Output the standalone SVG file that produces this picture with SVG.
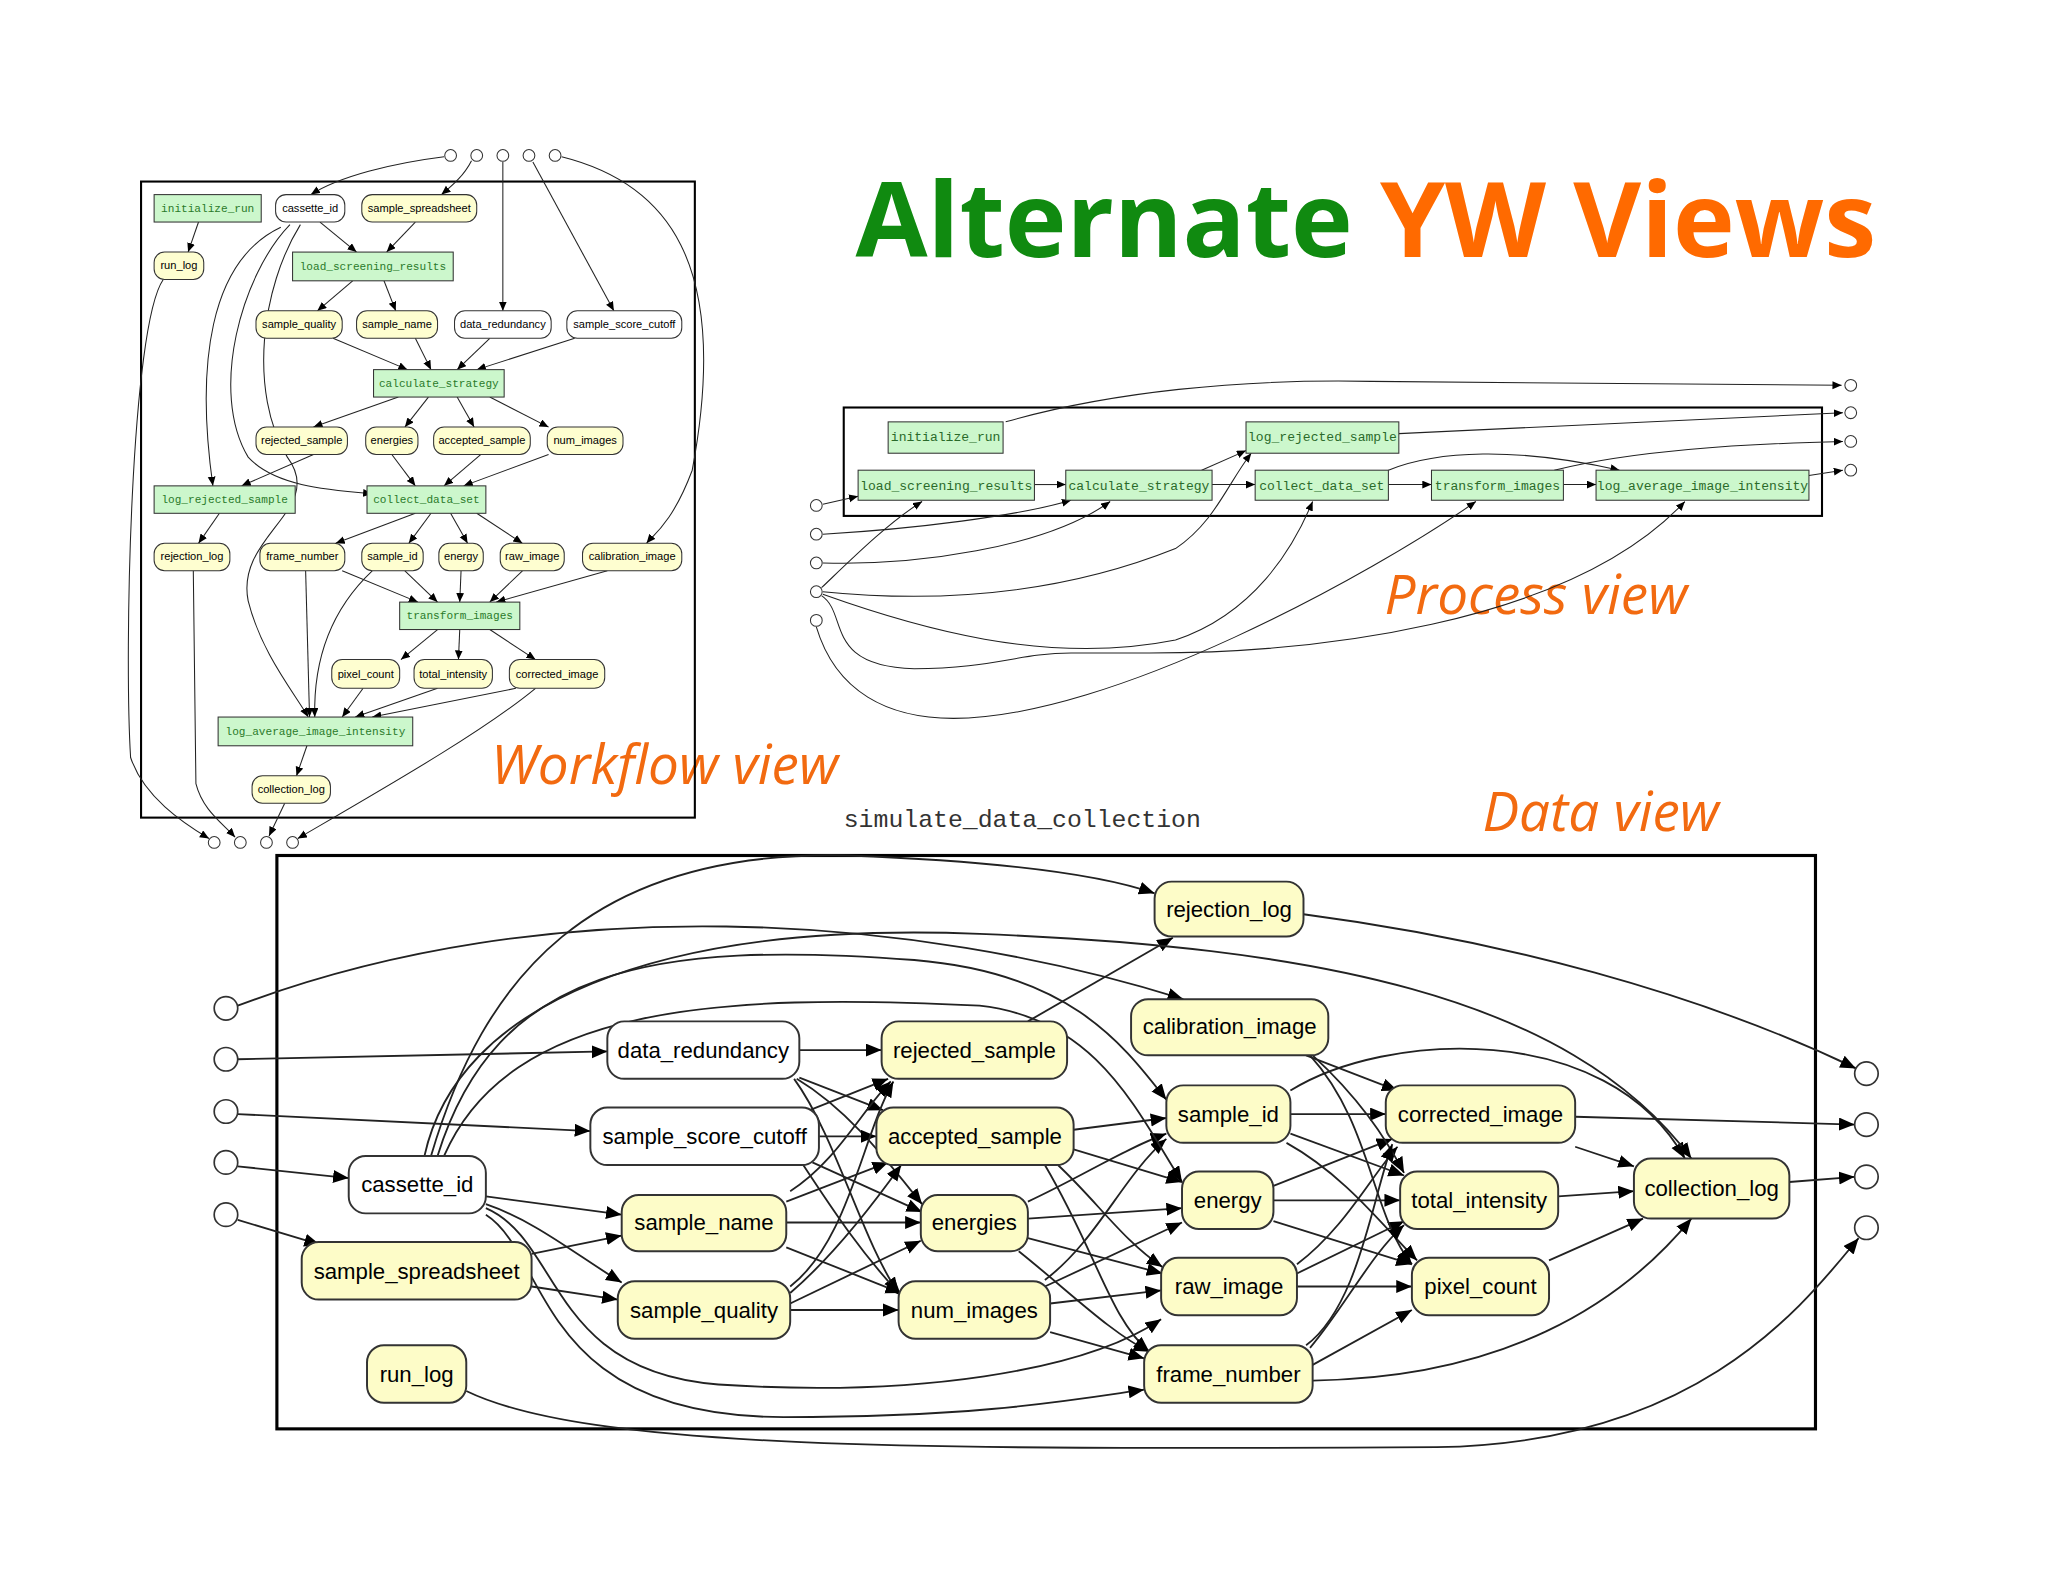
<svg xmlns="http://www.w3.org/2000/svg" width="2048" height="1582" viewBox="0 0 2048 1582">
<style>
.bg{fill:#fff}
.frame{fill:none;stroke:#000;stroke-width:1.6}
.dframe{fill:none;stroke:#000;stroke-width:2.4}
.g{fill:#ccf7cc;stroke:#333;stroke-width:0.8}
.y{fill:#fefed0;stroke:#333;stroke-width:0.8}
.w{fill:#fff;stroke:#333;stroke-width:0.8}
.dy{fill:#fdfcc8;stroke:#333;stroke-width:1.5}
.dw{fill:#fff;stroke:#333;stroke-width:1.5}
.gt{font-family:"Liberation Mono",monospace;font-size:8.5px;fill:#2a7a2a;text-anchor:middle}
.pt{font-family:"Liberation Mono",monospace;font-size:10px;fill:#2a6a2a;text-anchor:middle}
.st{font-family:"Liberation Sans",Arial,sans-serif;font-size:8.5px;fill:#000;text-anchor:middle}
.dt{font-family:"Liberation Sans",Arial,sans-serif;font-size:17px;fill:#000;text-anchor:middle}
.c{fill:#fff;stroke:#333;stroke-width:0.8}
.dc{fill:#fff;stroke:#333;stroke-width:1.3}
.e{fill:none;stroke:#222;stroke-width:0.8;marker-end:url(#a)}
.en{fill:none;stroke:#222;stroke-width:0.8}
.de{fill:none;stroke:#222;stroke-width:1.4;marker-end:url(#b)}
.de2{fill:none;stroke:#222;stroke-width:1.4}
.big{font-family:"Open Sans","Noto Sans",sans-serif;font-weight:bold;font-size:80px}
.it{font-family:"Open Sans","Noto Sans",sans-serif;font-style:italic;font-size:42px;fill:#f26a10}
</style>
<defs>
<marker id="a" markerUnits="userSpaceOnUse" markerWidth="8" markerHeight="8" refX="7" refY="3" orient="auto"><path d="M0,0 L7,3 L0,6 z" fill="#000"/></marker>
<marker id="b" markerUnits="userSpaceOnUse" markerWidth="14" markerHeight="12" refX="12" refY="5" orient="auto"><path d="M0,0 L12,5 L0,10 z" fill="#000"/></marker>
</defs>
<rect class="bg" width="2048" height="1582"/>
<g transform="scale(1.3061)">
<g id="title">
<text class="big" x="655" y="197"><tspan fill="#108a10">Alternate </tspan><tspan fill="#ff6a00">YW Views</tspan></text>
<text class="it" x="376" y="600">Workflow view</text>
<text class="it" x="1060" y="470">Process view</text>
<text class="it" x="1135" y="636">Data view</text>
<text x="646" y="633" font-family="Liberation Mono,monospace" font-size="19" fill="#333">simulate_data_collection</text>
</g>

<!-- WORKFLOW VIEW -->
<rect class="frame" x="108" y="139" width="424" height="487"/>
<g id="wf-edges">
<path class="e" d="M340,120 C300,125 260,135 238,149"/>
<path class="e" d="M361,123 C355,135 345,143 338,149"/>
<path class="e" d="M385,124 L385,238"/>
<path class="e" d="M408,124 L470,238"/>
<path class="e" d="M430,120 C510,140 560,200 530,360 C515,400 500,410 495,416"/>
<path class="e" d="M152,170 L144,193"/>
<path class="e" d="M245,170 L273,193"/>
<path class="e" d="M318,170 L296,193"/>
<path class="e" d="M270,215 L243,238"/>
<path class="e" d="M294,215 L303,238"/>
<path class="e" d="M255,259 L312,283"/>
<path class="e" d="M318,259 L330,283"/>
<path class="e" d="M375,259 L350,283"/>
<path class="e" d="M440,259 L365,283"/>
<path class="e" d="M305,304 L240,327"/>
<path class="e" d="M328,304 L310,327"/>
<path class="e" d="M350,304 L363,327"/>
<path class="e" d="M375,304 L420,327"/>
<path class="e" d="M240,348 L185,372"/>
<path class="e" d="M215,174 C160,200 150,280 163,372"/>
<path class="e" d="M222,172 C185,210 160,300 190,350 C210,372 250,375 285,378"/>
<path class="e" d="M230,172 C200,220 190,300 220,350 C250,390 180,410 190,460 C200,500 225,530 236,549"/>
<path class="e" d="M300,348 L318,372"/>
<path class="e" d="M368,348 L340,372"/>
<path class="e" d="M420,348 L355,372"/>
<path class="e" d="M168,393 L152,416"/>
<path class="e" d="M318,393 L257,416"/>
<path class="e" d="M330,393 L313,416"/>
<path class="e" d="M345,393 L358,416"/>
<path class="e" d="M365,393 L400,416"/>
<path class="e" d="M234,437 L237,549"/>
<path class="e" d="M262,437 L320,461"/>
<path class="e" d="M310,437 L335,461"/>
<path class="e" d="M285,437 C250,470 240,510 241,549"/>
<path class="e" d="M353,437 L352,461"/>
<path class="e" d="M400,437 L375,461"/>
<path class="e" d="M465,437 L380,461"/>
<path class="e" d="M335,482 L307,505"/>
<path class="e" d="M352,482 L351,505"/>
<path class="e" d="M375,482 L410,505"/>
<path class="e" d="M278,527 L262,549"/>
<path class="e" d="M335,527 L272,549"/>
<path class="e" d="M395,527 L285,549"/>
<path class="e" d="M235,571 L227,594"/>
<path class="e" d="M125,214 C100,250 95,500 100,580 C110,610 140,630 160,642"/>
<path class="e" d="M148,437 L150,600 C155,620 170,630 180,641"/>
<path class="e" d="M218,615 L206,640"/>
<path class="e" d="M410,527 C370,560 300,600 228,642"/>
</g>
<g id="wf-ports">
<circle class="c" cx="345" cy="119" r="4.5"/><circle class="c" cx="365" cy="119" r="4.5"/><circle class="c" cx="385" cy="119" r="4.5"/><circle class="c" cx="405" cy="119" r="4.5"/><circle class="c" cx="425" cy="119" r="4.5"/>
<circle class="c" cx="164" cy="645" r="4.5"/><circle class="c" cx="184" cy="645" r="4.5"/><circle class="c" cx="204" cy="645" r="4.5"/><circle class="c" cx="224" cy="645" r="4.5"/>
</g>
<g id="wf-initialize_run"><rect class="g" x="118" y="149" width="82" height="21"/><text class="gt" x="159" y="162">initialize_run</text></g>
<g id="wf-cassette_id"><rect class="w" x="211" y="149" width="53" height="21" rx="8"/><text class="st" x="237.5" y="162">cassette_id</text></g>
<g id="wf-sample_spreadsheet"><rect class="y" x="277" y="149" width="88" height="21" rx="8"/><text class="st" x="321" y="162">sample_spreadsheet</text></g>
<g id="wf-run_log"><rect class="y" x="118" y="193" width="38" height="21" rx="8"/><text class="st" x="137" y="206">run_log</text></g>
<g id="wf-load_screening_results"><rect class="g" x="224" y="193" width="123" height="22"/><text class="gt" x="285.5" y="207">load_screening_results</text></g>
<g id="wf-sample_quality"><rect class="y" x="196" y="238" width="66" height="21" rx="8"/><text class="st" x="229" y="251">sample_quality</text></g>
<g id="wf-sample_name"><rect class="y" x="273" y="238" width="62" height="21" rx="8"/><text class="st" x="304" y="251">sample_name</text></g>
<g id="wf-data_redundancy"><rect class="w" x="348" y="238" width="74" height="21" rx="8"/><text class="st" x="385" y="251">data_redundancy</text></g>
<g id="wf-sample_score_cutoff"><rect class="w" x="434" y="238" width="88" height="21" rx="8"/><text class="st" x="478" y="251">sample_score_cutoff</text></g>
<g id="wf-calculate_strategy"><rect class="g" x="286" y="283" width="100" height="21"/><text class="gt" x="336" y="296">calculate_strategy</text></g>
<g id="wf-rejected_sample"><rect class="y" x="196" y="327" width="70" height="21" rx="8"/><text class="st" x="231" y="340">rejected_sample</text></g>
<g id="wf-energies"><rect class="y" x="280" y="327" width="40" height="21" rx="8"/><text class="st" x="300" y="340">energies</text></g>
<g id="wf-accepted_sample"><rect class="y" x="332" y="327" width="74" height="21" rx="8"/><text class="st" x="369" y="340">accepted_sample</text></g>
<g id="wf-num_images"><rect class="y" x="419" y="327" width="58" height="21" rx="8"/><text class="st" x="448" y="340">num_images</text></g>
<g id="wf-log_rejected_sample"><rect class="g" x="118" y="372" width="108" height="21"/><text class="gt" x="172" y="385">log_rejected_sample</text></g>
<g id="wf-collect_data_set"><rect class="g" x="281" y="372" width="91" height="21"/><text class="gt" x="326.5" y="385">collect_data_set</text></g>
<g id="wf-rejection_log"><rect class="y" x="118" y="416" width="58" height="21" rx="8"/><text class="st" x="147" y="429">rejection_log</text></g>
<g id="wf-frame_number"><rect class="y" x="199" y="416" width="65" height="21" rx="8"/><text class="st" x="231.5" y="429">frame_number</text></g>
<g id="wf-sample_id"><rect class="y" x="277" y="416" width="47" height="21" rx="8"/><text class="st" x="300.5" y="429">sample_id</text></g>
<g id="wf-energy"><rect class="y" x="336" y="416" width="34" height="21" rx="8"/><text class="st" x="353" y="429">energy</text></g>
<g id="wf-raw_image"><rect class="y" x="383" y="416" width="49" height="21" rx="8"/><text class="st" x="407.5" y="429">raw_image</text></g>
<g id="wf-calibration_image"><rect class="y" x="446" y="416" width="76" height="21" rx="8"/><text class="st" x="484" y="429">calibration_image</text></g>
<g id="wf-transform_images"><rect class="g" x="306" y="461" width="92" height="21"/><text class="gt" x="352" y="474">transform_images</text></g>
<g id="wf-pixel_count"><rect class="y" x="254" y="505" width="52" height="22" rx="8"/><text class="st" x="280" y="519">pixel_count</text></g>
<g id="wf-total_intensity"><rect class="y" x="317" y="505" width="60" height="22" rx="8"/><text class="st" x="347" y="519">total_intensity</text></g>
<g id="wf-corrected_image"><rect class="y" x="390" y="505" width="73" height="22" rx="8"/><text class="st" x="426.5" y="519">corrected_image</text></g>
<g id="wf-log_average_image_intensity"><rect class="g" x="167" y="549" width="149" height="22"/><text class="gt" x="241.5" y="563">log_average_image_intensity</text></g>
<g id="wf-collection_log"><rect class="y" x="193" y="594" width="60" height="21" rx="8"/><text class="st" x="223" y="607">collection_log</text></g>

<!-- PROCESS VIEW -->
<rect class="frame" x="646" y="312" width="749" height="83"/>
<g id="pv-edges">
<path class="e" d="M770,323 C850,300 950,290 1050,292 L1410,295"/>
<path class="e" d="M1071,332 L1411,316"/>
<path class="e" d="M1190,360 C1250,345 1330,340 1411,338"/>
<path class="e" d="M1385,364 L1411,360"/>
<path class="e" d="M1063,360 C1100,345 1160,342 1240,360"/>
<path class="e" d="M792,371 L816,371"/>
<path class="e" d="M928,371 L961,371"/>
<path class="e" d="M1063,371 L1096,371"/>
<path class="e" d="M1197,371 L1222,371"/>
<path class="e" d="M920,360 L954,345"/>
<path class="e" d="M630,386 L657,380"/>
<path class="e" d="M630,409 C700,405 780,395 820,383"/>
<path class="e" d="M630,431 C700,433 800,420 850,384"/>
<path class="e" d="M629,450 C650,430 680,400 706,384"/>
<path class="e" d="M630,453 C700,460 800,460 900,420 C930,400 940,370 958,347"/>
<path class="e" d="M630,455 C700,480 800,510 900,490 C960,470 990,420 1005,384"/>
<path class="e" d="M629,456 C650,470 630,510 700,512 C760,512 780,500 820,500 L880,500 C1000,500 1200,480 1290,384"/>
<path class="e" d="M625,480 C640,530 680,550 730,550 C850,550 1050,440 1130,384"/>
</g>
<g id="pv-ports">
<circle class="c" cx="625" cy="387" r="4.5"/><circle class="c" cx="625" cy="409" r="4.5"/><circle class="c" cx="625" cy="431" r="4.5"/><circle class="c" cx="625" cy="453" r="4.5"/><circle class="c" cx="625" cy="475" r="4.5"/>
<circle class="c" cx="1417" cy="295" r="4.5"/><circle class="c" cx="1417" cy="316" r="4.5"/><circle class="c" cx="1417" cy="338" r="4.5"/><circle class="c" cx="1417" cy="360" r="4.5"/>
</g>
<g id="pv-initialize_run"><rect class="g" x="680" y="323" width="88" height="24"/><text class="pt" x="724" y="338">initialize_run</text></g>
<g id="pv-log_rejected_sample"><rect class="g" x="954" y="323" width="117" height="24"/><text class="pt" x="1012.5" y="338">log_rejected_sample</text></g>
<g id="pv-load_screening_results"><rect class="g" x="657" y="360" width="135" height="23"/><text class="pt" x="724.5" y="375">load_screening_results</text></g>
<g id="pv-calculate_strategy"><rect class="g" x="816" y="360" width="112" height="23"/><text class="pt" x="872" y="375">calculate_strategy</text></g>
<g id="pv-collect_data_set"><rect class="g" x="961" y="360" width="102" height="23"/><text class="pt" x="1012" y="375">collect_data_set</text></g>
<g id="pv-transform_images"><rect class="g" x="1096" y="360" width="101" height="23"/><text class="pt" x="1146.5" y="375">transform_images</text></g>
<g id="pv-log_average_image_intensity"><rect class="g" x="1222" y="360" width="163" height="23"/><text class="pt" x="1303.5" y="375">log_average_image_intensity</text></g>

<!-- DATA VIEW -->
<rect class="dframe" x="212" y="655" width="1178" height="439"/>
<g id="dv-edges">
<path class="de" d="M182,770 C420,680 700,700 906,765"/>
<path class="de" d="M182,811 L465,805"/>
<path class="de" d="M182,853 L452,866"/>
<path class="de" d="M182,893 L267,902"/>
<path class="de" d="M182,934 L245,953"/>
<path class="de" d="M372,916 L476,930"/>
<path class="de" d="M372,922 C410,935 440,960 476,982"/>
<path class="de" d="M407,960 L476,946"/>
<path class="de" d="M407,985 L473,995"/>
<path class="de" d="M612,804 L675,804"/>
<path class="de" d="M612,825 L676,850"/>
<path class="de" d="M610,826 C650,850 680,890 706,922"/>
<path class="de" d="M608,826 C640,870 660,950 688,990"/>
<path class="de" d="M627,870 L671,870"/>
<path class="de" d="M620,850 L680,826"/>
<path class="de" d="M622,890 L706,928"/>
<path class="de" d="M615,892 C640,930 660,960 690,992"/>
<path class="de" d="M605,912 C640,890 660,850 682,828"/>
<path class="de" d="M602,920 L680,890"/>
<path class="de" d="M602,936 L705,936"/>
<path class="de" d="M602,955 L690,990"/>
<path class="de" d="M605,985 C650,950 660,870 684,828"/>
<path class="de" d="M605,990 C640,960 670,920 690,892"/>
<path class="de" d="M605,998 L705,950"/>
<path class="de" d="M605,1003 L688,1003"/>
<path class="de" d="M787,782 L898,718"/>
<path class="de" d="M822,865 L893,856"/>
<path class="de" d="M822,880 L905,905"/>
<path class="de" d="M810,892 C840,920 860,950 890,970"/>
<path class="de" d="M800,892 C840,960 850,1010 880,1035"/>
<path class="de" d="M787,920 C830,900 860,880 893,868"/>
<path class="de" d="M787,933 L905,925"/>
<path class="de" d="M787,948 L890,975"/>
<path class="de" d="M780,958 C820,990 850,1020 880,1035"/>
<path class="de" d="M800,980 C840,950 860,900 893,872"/>
<path class="de" d="M800,985 L905,936"/>
<path class="de" d="M804,998 L889,988"/>
<path class="de" d="M804,1020 L876,1040"/>
<path class="de" d="M988,853 L1061,853"/>
<path class="de" d="M988,868 L1075,900"/>
<path class="de" d="M985,875 C1030,900 1060,940 1085,965"/>
<path class="de" d="M988,835 C1060,790 1230,780 1290,887"/>
<path class="de" d="M975,908 L1066,872"/>
<path class="de" d="M975,919 L1072,919"/>
<path class="de" d="M975,935 L1081,968"/>
<path class="de" d="M993,968 C1030,940 1050,900 1070,878"/>
<path class="de" d="M993,975 L1075,935"/>
<path class="de" d="M993,985 L1081,985"/>
<path class="de" d="M1000,808 L1070,835"/>
<path class="de" d="M1005,808 C1040,840 1060,870 1075,898"/>
<path class="de" d="M1003,808 C1050,860 1050,930 1081,968"/>
<path class="de" d="M1000,1030 C1040,1000 1050,920 1066,876"/>
<path class="de" d="M1003,1032 C1030,1000 1050,960 1075,938"/>
<path class="de" d="M1005,1045 L1081,1003"/>
<path class="de" d="M1005,1057 C1150,1055 1240,1000 1295,933"/>
<path class="de" d="M1206,855 L1420,861"/>
<path class="de" d="M1206,878 L1251,893"/>
<path class="de" d="M1193,916 L1251,912"/>
<path class="de" d="M1186,965 L1258,933"/>
<path class="de" d="M1370,905 L1420,901"/>
<path class="de" d="M998,700 C1150,720 1300,760 1421,818"/>
<path class="de" d="M357,1065 C450,1110 700,1110 1100,1108 C1300,1105 1380,1000 1423,948"/>
<path class="de" d="M330,885 C370,750 450,650 650,655 C780,660 850,672 884,684"/>
<path class="de" d="M335,885 C380,740 500,720 700,735 C820,745 860,800 893,842"/>
<path class="de" d="M340,885 C390,770 550,760 750,770 C840,780 870,850 905,905"/>
<path class="de" d="M325,885 C350,770 500,705 750,715 C1000,725 1200,760 1295,887"/>
<path class="de" d="M372,925 C430,950 420,1050 550,1060 C700,1070 830,1050 889,1010"/>
<path class="de" d="M372,930 C420,960 410,1085 600,1085 C750,1085 820,1072 876,1064"/>
</g>
<g id="dv-ports">
<circle class="dc" cx="173" cy="772" r="9"/><circle class="dc" cx="173" cy="811" r="9"/><circle class="dc" cx="173" cy="851" r="9"/><circle class="dc" cx="173" cy="890" r="9"/><circle class="dc" cx="173" cy="930" r="9"/>
<circle class="dc" cx="1429" cy="822" r="9"/><circle class="dc" cx="1429" cy="861" r="9"/><circle class="dc" cx="1429" cy="901" r="9"/><circle class="dc" cx="1429" cy="940" r="9"/>
</g>
<g id="dv-rejection_log"><rect class="dy" x="884" y="675" width="114" height="42" rx="13"/><text class="dt" x="941" y="702">rejection_log</text></g>
<g id="dv-calibration_image"><rect class="dy" x="866" y="765" width="151" height="43" rx="13"/><text class="dt" x="941.5" y="792">calibration_image</text></g>
<g id="dv-data_redundancy"><rect class="dw" x="465" y="782" width="147" height="44" rx="13"/><text class="dt" x="538.5" y="810">data_redundancy</text></g>
<g id="dv-rejected_sample"><rect class="dy" x="675" y="782" width="142" height="44" rx="13"/><text class="dt" x="746" y="810">rejected_sample</text></g>
<g id="dv-sample_id"><rect class="dy" x="893" y="831" width="95" height="44" rx="13"/><text class="dt" x="940.5" y="859">sample_id</text></g>
<g id="dv-corrected_image"><rect class="dy" x="1061" y="831" width="145" height="44" rx="13"/><text class="dt" x="1133.5" y="859">corrected_image</text></g>
<g id="dv-sample_score_cutoff"><rect class="dw" x="452" y="848" width="175" height="44" rx="13"/><text class="dt" x="539.5" y="876">sample_score_cutoff</text></g>
<g id="dv-accepted_sample"><rect class="dy" x="671" y="848" width="151" height="44" rx="13"/><text class="dt" x="746.5" y="876">accepted_sample</text></g>
<g id="dv-cassette_id"><rect class="dw" x="267" y="885" width="105" height="44" rx="13"/><text class="dt" x="319.5" y="913">cassette_id</text></g>
<g id="dv-energy"><rect class="dy" x="905" y="897" width="70" height="44" rx="13"/><text class="dt" x="940" y="925">energy</text></g>
<g id="dv-total_intensity"><rect class="dy" x="1072" y="897" width="121" height="44" rx="13"/><text class="dt" x="1132.5" y="925">total_intensity</text></g>
<g id="dv-collection_log"><rect class="dy" x="1251" y="887" width="119" height="46" rx="13"/><text class="dt" x="1310.5" y="916">collection_log</text></g>
<g id="dv-sample_name"><rect class="dy" x="476" y="915" width="126" height="43" rx="13"/><text class="dt" x="539" y="942">sample_name</text></g>
<g id="dv-energies"><rect class="dy" x="705" y="915" width="82" height="43" rx="13"/><text class="dt" x="746" y="942">energies</text></g>
<g id="dv-sample_spreadsheet"><rect class="dy" x="231" y="951" width="176" height="44" rx="13"/><text class="dt" x="319" y="979">sample_spreadsheet</text></g>
<g id="dv-raw_image"><rect class="dy" x="889" y="963" width="104" height="44" rx="13"/><text class="dt" x="941" y="991">raw_image</text></g>
<g id="dv-pixel_count"><rect class="dy" x="1081" y="963" width="105" height="44" rx="13"/><text class="dt" x="1133.5" y="991">pixel_count</text></g>
<g id="dv-sample_quality"><rect class="dy" x="473" y="981" width="132" height="44" rx="13"/><text class="dt" x="539" y="1009">sample_quality</text></g>
<g id="dv-num_images"><rect class="dy" x="688" y="981" width="116" height="44" rx="13"/><text class="dt" x="746" y="1009">num_images</text></g>
<g id="dv-run_log"><rect class="dy" x="281" y="1030" width="76" height="44" rx="13"/><text class="dt" x="319" y="1058">run_log</text></g>
<g id="dv-frame_number"><rect class="dy" x="876" y="1030" width="129" height="44" rx="13"/><text class="dt" x="940.5" y="1058">frame_number</text></g>
</g>
</svg>
